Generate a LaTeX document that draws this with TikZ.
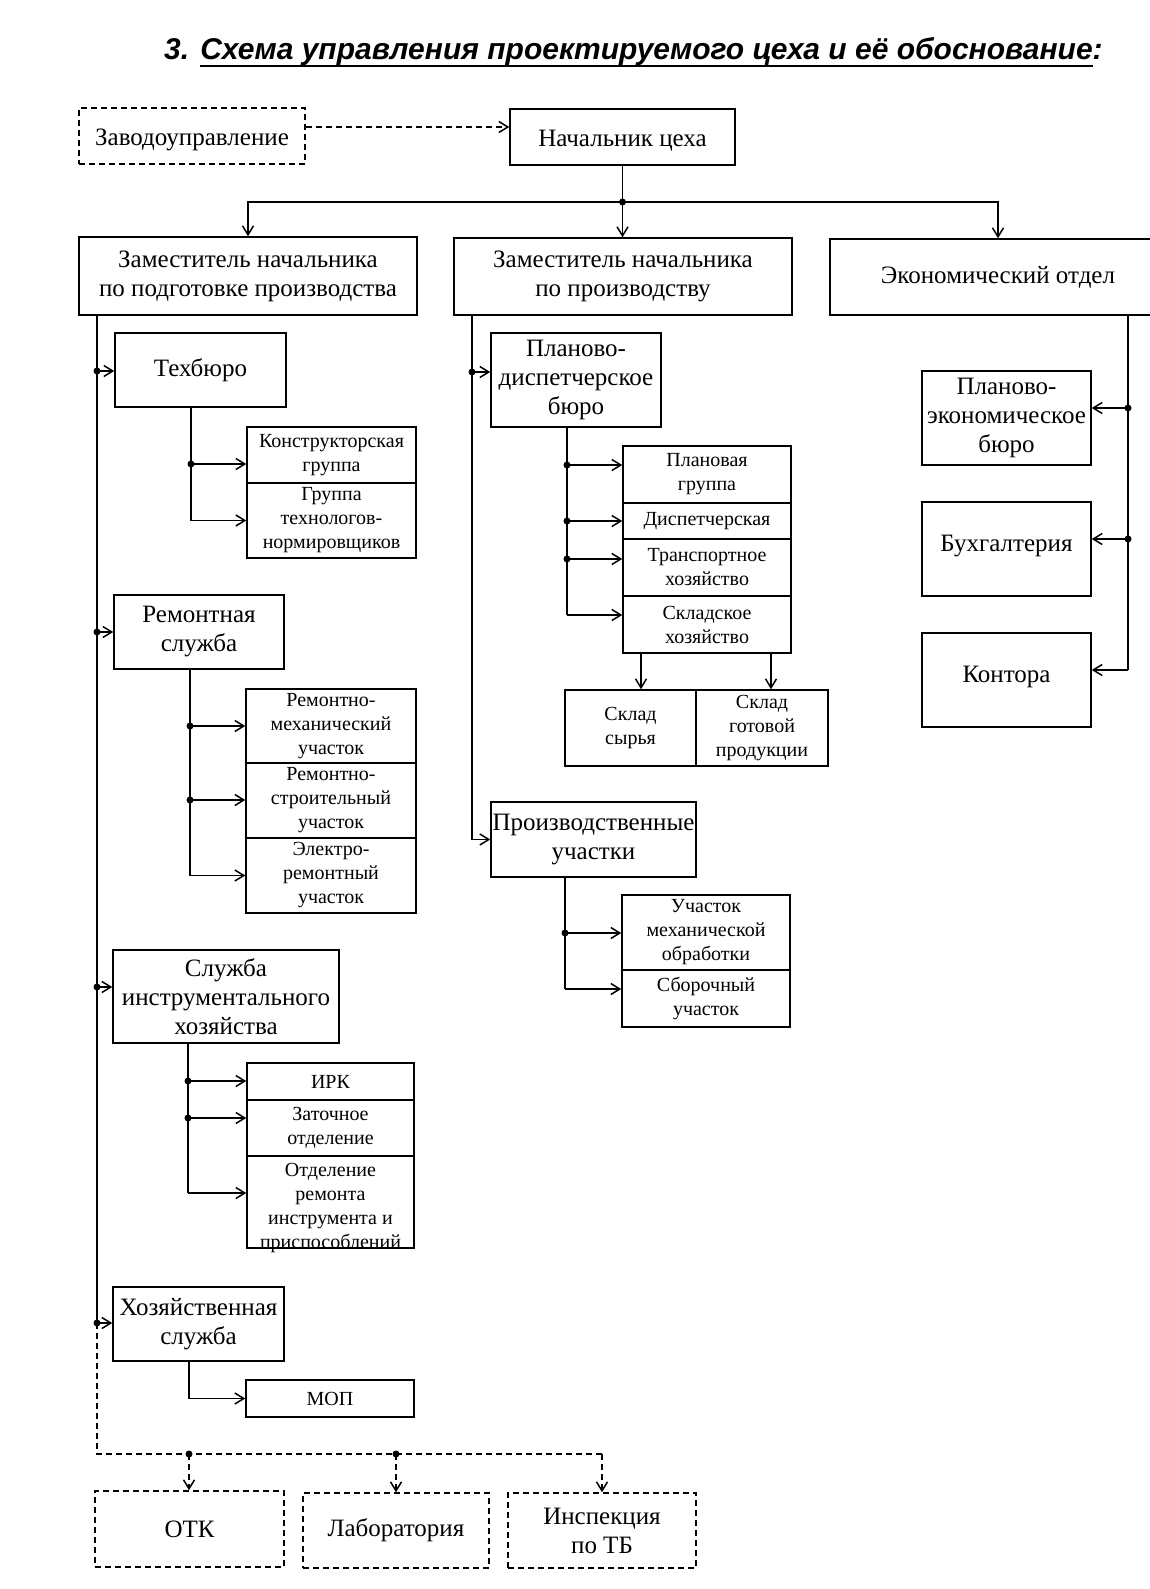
\documentclass[tikz,border=0pt]{standalone}
\usepackage{fontspec}
\setmainfont{Liberation Serif}
\newfontfamily\titlefont{Liberation Sans}
\usetikzlibrary{arrows.meta}
\newsavebox\ulbox
\newcommand\thickul[1]{\sbox\ulbox{#1}\rlap{\rule[-7pt]{\wd\ulbox}{2pt}}\usebox\ulbox}
\newcommand\Bx[8]{%
  \node[#2, minimum width={#5-#3}, minimum height={#6-#4}] (#1) at ({(#3+#5)/2},{(#4+#6)/2}) {};
  \node[#8] (#1t) at (#1.center) {#7};}
\tikzset{
  box/.style={draw, line width=1.5pt, inner sep=0pt, rectangle},
  dbox/.style={box, dash pattern=on 6pt off 4pt},
  bt/.style={font=\fontsize{25}{29}\selectfont, align=center, inner sep=0pt},
  st/.style={font=\fontsize{20}{24}\selectfont, align=center, inner sep=0pt},
  ln/.style={line width=1.5pt},
  arr/.style={ln, -{Straight Barb[length=9pt,width=11pt,line width=1.5pt]}},
  darr/.style={arr, dash pattern=on 6pt off 4pt},
  dl/.style={ln, dash pattern=on 6pt off 4pt},
}
\begin{document}
\begin{tikzpicture}[x=1pt,y=-1pt]
\useasboundingbox (0,0) rectangle (1150,1589);
\fill[white] (0,0) rectangle (1150,1589);
% title
\node[anchor=base west, font=\titlefont\bfseries\itshape\fontsize{30}{33}\selectfont, inner sep=0pt] (title) at (164,60)
  {3. \thickul{Схема управления проектируемого цеха и её обоснование}:};
% top level
\Bx{zavod}{dbox}{79}{108}{305}{164}{Заводоуправление}{bt,yshift=-4pt}
\Bx{nach}{box}{510}{109}{735}{165}{Начальник цеха}{bt,yshift=-4pt}
\Bx{zamA}{box}{79}{237}{417}{315}{Заместитель начальника\\по подготовке производства}{bt}
\Bx{zamB}{box}{454}{238}{792}{315}{Заместитель начальника\\по производству}{bt}
\Bx{econ}{box}{830}{239}{1166}{315}{Экономический отдел}{bt}
% left column
\Bx{tb}{box}{115}{333}{286}{407}{Техбюро}{bt}
\Bx{kg}{box}{247}{427}{416}{483}{Конструкторская\\группа}{st}
\Bx{gt}{box}{247}{483}{416}{558}{Группа\\технологов-\\нормировщиков}{st}
\Bx{rs}{box}{114}{595}{284}{669}{Ремонтная\\служба}{bt}
\Bx{rA}{box}{246}{689}{416}{763}{Ремонтно-\\механический\\участок}{st}
\Bx{rB}{box}{246}{763}{416}{838}{Ремонтно-\\строительный\\участок}{st}
\Bx{rC}{box}{246}{838}{416}{913}{Электро-\\ремонтный\\участок}{st}
\Bx{si}{box}{113}{950}{339}{1043}{Служба\\инструментального\\хозяйства}{bt}
\Bx{irk}{box}{247}{1063}{414}{1100}{ИРК}{st}
\Bx{zat}{box}{247}{1100}{414}{1156}{Заточное\\отделение}{st}
\Bx{otd}{box}{247}{1156}{414}{1248}{Отделение\\ремонта\\инструмента и\\приспособлений}{st,yshift=-6pt}
\Bx{hs}{box}{113}{1287}{284}{1361}{Хозяйственная\\служба}{bt}
\Bx{mop}{box}{246}{1380}{414}{1417}{МОП}{st}
\Bx{otk}{dbox}{95}{1491}{284}{1567}{ОТК}{bt}
\Bx{lab}{dbox}{303}{1493}{489}{1568}{Лаборатория}{bt}
\Bx{insp}{dbox}{508}{1493}{696}{1568}{Инспекция\\по ТБ}{bt}
% middle column
\Bx{pdb}{box}{491}{333}{661}{427}{Планово-\\диспетчерское\\бюро}{bt}
\Bx{pg}{box}{623}{446}{791}{503}{Плановая\\группа}{st}
\Bx{disp}{box}{623}{503}{791}{539}{Диспетчерская}{st}
\Bx{tr}{box}{623}{539}{791}{596}{Транспортное\\хозяйство}{st}
\Bx{skl}{box}{623}{596}{791}{653}{Складское\\хозяйство}{st}
\Bx{ss}{box}{565}{690}{696}{766}{Склад\\сырья}{st}
\Bx{sg}{box}{696}{690}{828}{766}{Склад\\готовой\\продукции}{st}
\Bx{pu}{box}{491}{802}{696}{877}{Производственные\\участки}{bt}
\Bx{um}{box}{622}{895}{790}{970}{Участок\\механической\\обработки}{st}
\Bx{sb}{box}{622}{970}{790}{1027}{Сборочный\\участок}{st}
% right column
\Bx{peb}{box}{922}{371}{1091}{465}{Планово-\\экономическое\\бюро}{bt}
\Bx{buh}{box}{922}{502}{1091}{596}{Бухгалтерия}{bt,yshift=3pt}
\Bx{kon}{box}{922}{633}{1091}{727}{Контора}{bt,yshift=3pt}

% ---- connectors ----
\coordinate (zy) at (0,127);
\draw[darr] (zavod.east |- zy) -- (nach.west |- zy);
\coordinate (J0) at (622.5,202);
\draw[ln] (nach.south) -- (J0);
\draw[arr] (J0) -- (J0 |- zamB.north);
\draw[arr] (J0) -| (zamA.north);
\draw[arr] (J0) -| (econ.north);
\fill (J0) circle (3.5pt);

% left trunk
\coordinate (LT) at (97,315);
\coordinate (L1) at (97,371);
\coordinate (L2) at (97,632);
\coordinate (L3) at (97,987);
\coordinate (L4) at (97,1323);
\coordinate (LB) at (97,1454);
\draw[ln] (LT) -- (L4);
\draw[arr] (L1) -- (L1 -| tb.west);
\draw[arr] (L2) -- (L2 -| rs.west);
\draw[arr] (L3) -- (L3 -| si.west);
\draw[arr] (L4) -- (L4 -| hs.west);
\foreach \c in {L1,L2,L3,L4} \fill (\c) circle (3.5pt);

% Техбюро
\coordinate (T0) at (191,407);
\coordinate (T1) at (191,464);
\draw[arr] (T0) |- (gt.west);
\draw[arr] (T1) -- (T1 -| kg.west);
\fill (T1) circle (3.5pt);

% Ремонтная служба
\coordinate (R0) at (190,669);
\coordinate (R1) at (190,726);
\coordinate (R2) at (190,800);
\draw[arr] (R0) |- (rC.west);
\draw[arr] (R1) -- (R1 -| rA.west);
\draw[arr] (R2) -- (R2 -| rB.west);
\foreach \c in {R1,R2} \fill (\c) circle (3.5pt);

% Служба инструментального хозяйства
\coordinate (S0) at (188,1043);
\coordinate (S1) at (188,1081);
\coordinate (S2) at (188,1118);
\coordinate (S3) at (188,1193);
\draw[ln] (S0) -- (S3);
\draw[arr] (S1) -- (S1 -| irk.west);
\draw[arr] (S2) -- (S2 -| zat.west);
\draw[arr] (S3) -- (S3 -| otd.west);
\foreach \c in {S1,S2} \fill (\c) circle (3.5pt);

% Хозяйственная служба
\coordinate (H0) at (189,1361);
\draw[arr] (H0) |- (mop.west);

% dashed bottom
\coordinate (D1) at (189,1454);
\coordinate (D2) at (396,1454);
\coordinate (D3) at (602,1454);
\draw[dl] (L4) -- (LB) -- (D3);
\draw[darr] (D1) -- (D1 |- otk.north);
\draw[darr] (D2) -- (D2 |- lab.north);
\draw[darr] (D3) -- (D3 |- insp.north);
\foreach \c in {D1,D2} \fill (\c) circle (3.5pt);

% middle trunk
\coordinate (MT) at (472,315);
\coordinate (M1) at (472,372);
\draw[arr] (MT) |- (pu.west);
\draw[arr] (M1) -- (M1 -| pdb.west);
\fill (M1) circle (3.5pt);

% ПДБ
\coordinate (P0) at (567,427);
\coordinate (P1) at (567,465);
\coordinate (P2) at (567,521);
\coordinate (P3) at (567,559);
\coordinate (P4) at (567,615);
\draw[ln] (P0) -- (P4);
\draw[arr] (P1) -- (P1 -| pg.west);
\draw[arr] (P2) -- (P2 -| disp.west);
\draw[arr] (P3) -- (P3 -| tr.west);
\draw[arr] (P4) -- (P4 -| skl.west);
\foreach \c in {P1,P2,P3} \fill (\c) circle (3.5pt);

% склады
\coordinate (K1) at (641,653);
\coordinate (K2) at (771,653);
\draw[arr] (K1) -- (K1 |- ss.north);
\draw[arr] (K2) -- (K2 |- sg.north);

% производственные участки
\coordinate (U0) at (565,877);
\coordinate (U1) at (565,933);
\coordinate (U2) at (565,989);
\draw[ln] (U0) -- (U2);
\draw[arr] (U1) -- (U1 -| um.west);
\draw[arr] (U2) -- (U2 -| sb.west);
\fill (U1) circle (3.5pt);

% right trunk
\coordinate (ET) at (1128,315);
\coordinate (E1) at (1128,408);
\coordinate (E2) at (1128,539);
\coordinate (E3) at (1128,670);
\draw[ln] (ET) -- (E3);
\draw[arr] (E1) -- (E1 -| peb.east);
\draw[arr] (E2) -- (E2 -| buh.east);
\draw[arr] (E3) -- (E3 -| kon.east);
\foreach \c in {E1,E2} \fill (\c) circle (3.5pt);
\end{tikzpicture}
\end{document}
